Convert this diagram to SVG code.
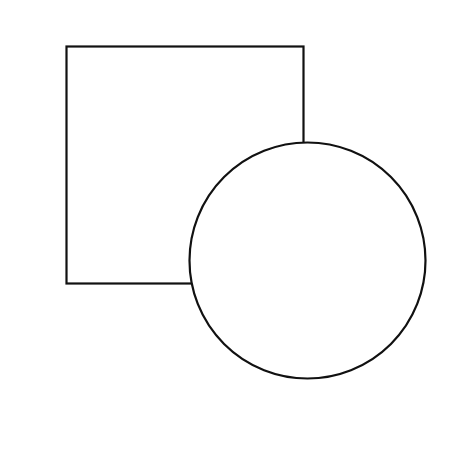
<svg xmlns="http://www.w3.org/2000/svg" width="474" height="474" viewBox="0 0 474 474">
<style>.s{fill:#fff;stroke:#111;stroke-width:2.2}</style>
<rect width="474" height="474" fill="#fff"/>
<g id="square"><rect class="s" x="66.5" y="46.5" width="237" height="237"/></g>
<g id="circle"><circle class="s" cx="307.5" cy="260.5" r="118"/></g>
<g id="connectors"></g>
</svg>
